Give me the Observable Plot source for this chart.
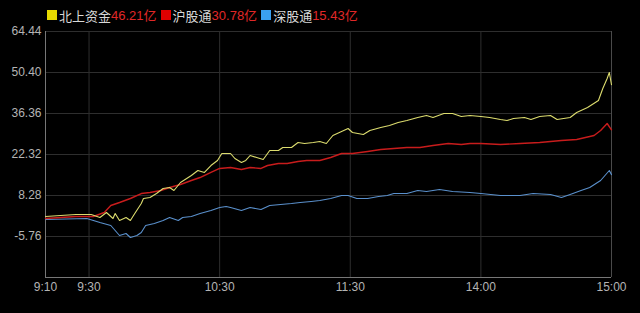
<!DOCTYPE html>
<html><head><meta charset="utf-8">
<script src="https://cdn.jsdelivr.net/npm/d3@7"></script>
<script src="https://cdn.jsdelivr.net/npm/@observablehq/plot@0.6"></script>
<style>
html,body{margin:0;padding:0;background:#000;width:640px;height:313px;overflow:hidden;}
#legend{height:24px;box-sizing:border-box;padding:6px 0 0 47px;display:flex;align-items:center;font-family:"Liberation Sans","Noto Sans CJK SC",sans-serif;font-size:13px;line-height:13px;}
#legend .sw{width:10px;height:10px;margin-right:2px;display:inline-block;}
#legend .nm{color:#d8d8d8;font-family:"Noto Sans CJK SC",sans-serif;}
#legend .vl{color:#e02828;margin-right:4px;}
</style></head><body>
<div id="legend"></div>
<div id="chart"></div>
<script>
// Series labels and colours
const seriesNames = ["北上资金", "沪股通", "深股通"];
const seriesTotals = ["46.21亿", "30.78亿", "15.43亿"];
const swatchColors = ["#e6d900", "#e00000", "#3aa0f0"];
const lineColors = ["#dcdc6e", "#c81c1c", "#5a90cc"];

// X: trading minutes since 9:10 (lunch break removed)
const xTickMinutes = [0, 20, 80, 140, 200, 260];
const xTickLabels = ["9:10", "9:30", "10:30", "11:30", "14:00", "15:00"];
const yTicks = [64.44, 50.40, 36.36, 22.32, 8.28, -5.76];
const yMin = -19.8;

// 北上资金
const northMinutes = [0,7,14,21,25,28,31,32,34,37,39,41,44,45,48,51,54,57,59,62,67,70,73,76,79,81,84,85,87,90,92,94,97,100,103,107,109,113,116,119,123,126,129,132,137,139,141,146,149,154,158,162,166,171,175,178,183,187,191,195,200,204,209,212,215,220,223,227,232,235,238,241,244,249,254,256,258,259,260];
const northValues = [1.09,1.43,1.77,1.77,0.75,2.46,0.40,2.12,-0.28,0.75,-0.28,2.12,5.54,7.25,7.59,8.96,10.68,11.02,9.99,12.73,15.13,16.84,16.16,18.55,20.27,22.66,22.66,22.66,20.95,19.58,20.27,21.98,21.29,20.61,23.69,23.69,24.72,24.72,26.43,26.09,26.43,26.77,26.09,28.83,30.54,31.22,29.85,29.17,30.54,31.57,32.25,33.28,33.96,34.99,35.68,34.99,36.36,36.36,35.33,35.68,35.33,34.99,34.31,33.96,34.65,34.99,34.31,35.33,35.68,34.31,34.65,34.99,36.70,38.41,40.81,44.92,48.35,50.40,46.21];

// 沪股通
const shMinutes = [0,7,14,22,27,30,34,39,44,48,53,57,62,67,71,76,80,85,90,94,99,102,107,111,116,120,126,131,136,141,148,154,160,166,172,178,185,191,195,200,209,218,227,237,244,252,255,258,260];
const shValues = [0.40,0.75,1.09,1.09,2.46,4.86,5.88,7.25,8.96,9.31,9.99,11.02,12.05,13.42,14.44,16.16,17.53,17.87,17.18,17.87,17.53,18.55,19.24,19.24,19.92,20.27,20.27,21.29,22.66,22.66,23.35,24.03,24.37,24.72,24.72,25.40,26.09,25.74,26.09,26.09,25.74,26.09,26.43,27.11,27.46,28.83,30.54,32.94,30.78];

// 深股通
const szMinutes = [0,19,25,30,34,37,39,42,44,46,50,54,57,61,63,67,71,76,80,83,85,90,94,99,103,108,113,117,122,126,131,136,139,143,148,153,157,160,166,171,175,181,187,195,200,209,218,224,232,237,241,246,250,255,259,260];
const szValues = [0.06,0.40,-0.97,-1.99,-5.42,-4.73,-6.10,-5.42,-4.39,-1.99,-1.31,-0.28,0.75,-0.28,0.75,1.09,2.12,3.14,4.17,4.51,4.17,3.14,4.17,3.49,4.86,5.20,5.54,5.88,6.23,6.57,7.25,8.28,8.28,7.25,7.25,7.94,8.28,8.96,8.96,9.99,9.65,10.33,9.65,9.31,8.96,8.28,8.28,8.96,8.62,7.59,8.62,9.99,11.02,13.42,16.84,15.43];

// Legend
const legend = document.getElementById("legend");
seriesNames.forEach((n, i) => {
  const sw = document.createElement("span"); sw.className = "sw"; sw.style.background = swatchColors[i];
  const nm = document.createElement("span"); nm.className = "nm"; nm.textContent = n;
  const vl = document.createElement("span"); vl.className = "vl"; vl.textContent = seriesTotals[i];
  legend.append(sw, nm, vl);
});

const toRows = (ms, vs) => ms.map((m, i) => ({m, v: vs[i]}));
const north = toRows(northMinutes, northValues);
const sh = toRows(shMinutes, shValues);
const sz = toRows(szMinutes, szValues);

const chart = Plot.plot({
  width: 640, height: 289,
  marginTop: 7, marginBottom: 36, marginLeft: 45, marginRight: 29,
  style: {background: "#000", color: "#b4b4b4", fontFamily: "Liberation Sans, Arial, sans-serif", fontSize: "12px"},
  x: {domain: [0, 260], label: null},
  y: {domain: [yMin, 64.44], label: null},
  marks: [
    Plot.ruleY(yTicks, {stroke: "#2e2e2e"}),
    Plot.ruleX(xTickMinutes.slice(1, -1), {stroke: "#2e2e2e"}),
    Plot.ruleX([260], {stroke: "#4a4a4a"}),
    Plot.ruleX([0], {stroke: "#777"}),
    Plot.ruleY([yMin], {stroke: "#777"}),
    Plot.axisY(yTicks, {label: null, tickSize: 0, tickPadding: 4, tickFormat: d => d.toFixed(2), fill: "#b4b4b4", fontSize: 12}),
    Plot.axisX(xTickMinutes, {label: null, tickSize: 0, tickPadding: 5, tickFormat: d => xTickLabels[xTickMinutes.indexOf(d)], fill: "#b4b4b4", fontSize: 12}),
    Plot.line(sz, {x: "m", y: "v", stroke: lineColors[2], strokeWidth: 1.1}),
    Plot.line(sh, {x: "m", y: "v", stroke: lineColors[1], strokeWidth: 1.4}),
    Plot.line(north, {x: "m", y: "v", stroke: lineColors[0], strokeWidth: 1.1})
  ]
});
document.getElementById("chart").appendChild(chart);
</script>
</body></html>
